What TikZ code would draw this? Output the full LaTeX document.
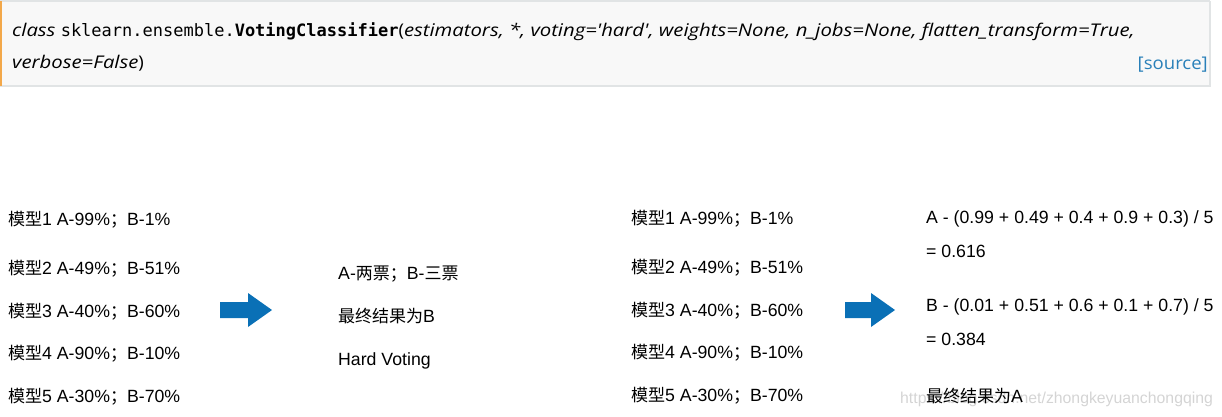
\documentclass[tikz,border=0pt]{standalone}
\usepackage{fontspec}
\setmainfont{Liberation Sans}
\newfontfamily\cjk{Noto Sans CJK SC}
\newfontfamily\docfont{Open Sans}[FakeStretch=1.06, ItalicFeatures={FakeStretch=1.16}]
\newfontfamily\codefont{DejaVu Sans Mono}
\newcommand\zh[1]{{\cjk\fontsize{17}{19}\selectfont #1}}

\definecolor{arrowblue}{HTML}{0A70B6}
\definecolor{headbg}{HTML}{F8F8F8}
\definecolor{headline}{HTML}{E1E4E5}
\definecolor{headorange}{HTML}{F3A84A}
\definecolor{srcblue}{HTML}{2980B9}
\definecolor{markgray}{HTML}{D4D4D4}

\tikzset{
  row/.style={anchor=base west, inner sep=0pt, font=\fontsize{17.7}{20}\selectfont},
  sig/.style={anchor=base west, inner sep=0pt, font=\docfont\itshape\fontsize{17.5}{20}\selectfont},
}

\begin{document}
\begin{tikzpicture}[x=1pt, y=-1pt]
  \useasboundingbox (0,0) rectangle (1222,416);

  % API signature box
  \fill[headbg] (0,1) rectangle (1210,86);
  \draw[headline, line width=2pt] (0,1) -- (1210,1);
  \draw[headline, line width=1.5pt] (0,86) -- (1210,86) -- (1210,1);
  \fill[headorange] (0,1) rectangle (2,86);
  \node[sig] (sig1) at (12,36) {class {\upshape\fontsize{17}{20}\codefont sklearn.ensemble.\textbf{VotingClassifier}}{\upshape(}estimators, *, voting='hard', weights=None, n\_jobs=None, flatten\_transform=True,};
  \node[sig] (sig2) at (12,68) {verbose=False{\upshape)}};
  \node[anchor=base east, inner sep=0pt, text=srcblue, font=\docfont\fontsize{17.5}{20}\selectfont] (src) at (1208,69) {[source]};

  % hard voting
  \foreach \i/\a/\b/\y in {1/99/1/225, 2/49/51/274, 3/40/60/317, 4/90/10/359, 5/30/70/402} {
    \node[row] (hard\i) at (8,\y) {\zh{模型}\i\ A-\a\%\zh{；}B-\b\%};
  }
  \coordinate (arrowA) at (220,310);
  \fill[arrowblue] (arrowA) ++(0,-8) -- ++(28,0) -- ++(0,-9) -- ++(24,17) -- ++(-24,17) -- ++(0,-9) -- ++(-28,0) -- cycle;
  \node[row] (votes) at (338,279) {A-\zh{两票；}B-\zh{三票}};
  \node[row] (resB) at (338,322) {\zh{最终结果为}B};
  \node[row] (hardname) at (338,365) {Hard Voting};

  % soft voting
  \node[anchor=base west, inner sep=0pt, text=markgray, font=\fontsize{15.8}{18}\selectfont] (mark) at (900,403) {https://blog.csdn.net/zhongkeyuanchongqing};
  \foreach \i/\a/\b/\y in {1/99/1/224, 2/49/51/273, 3/40/60/316, 4/90/10/358, 5/30/70/401} {
    \node[row] (soft\i) at (631,\y) {\zh{模型}\i\ A-\a\%\zh{；}B-\b\%};
  }
  \coordinate (arrowB) at (845,310);
  \fill[arrowblue] (arrowB) ++(0,-8) -- ++(26,0) -- ++(0,-9) -- ++(24,17) -- ++(-24,17) -- ++(0,-9) -- ++(-26,0) -- cycle;
  \node[row] (sumA) at (926,223) {A - (0.99 + 0.49 + 0.4 + 0.9 + 0.3) / 5};
  \node[row] (valA) at (926,257) {= 0.616};
  \node[row] (sumB) at (926,311) {B - (0.01 + 0.51 + 0.6 + 0.1 + 0.7) / 5};
  \node[row] (valB) at (926,345) {= 0.384};
  \node[row] (resA) at (926,402) {\zh{最终结果为}A};
\end{tikzpicture}
\end{document}
